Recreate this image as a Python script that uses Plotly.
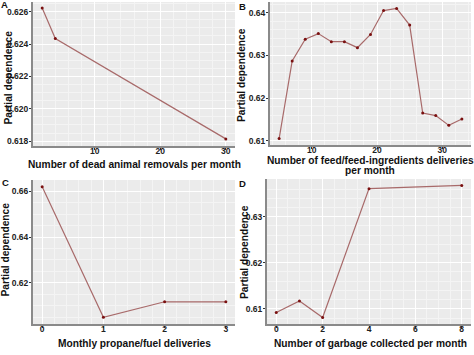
import plotly.graph_objects as go

# Panel A
a_x = [2, 4, 30]
a_y = [0.62623, 0.62434, 0.61814]
# Panel B
b_x = [5, 7, 9, 11, 13, 15, 17, 19, 21, 23, 25, 27, 29, 31, 33]
b_y = [0.6105, 0.6287, 0.6338, 0.6351, 0.6332, 0.6332, 0.6318, 0.6349,
       0.6405, 0.6410, 0.6371, 0.6165, 0.6159, 0.6136, 0.6151]
# Panel C
c_x = [0, 1, 2, 3]
c_y = [0.6620, 0.6049, 0.6117, 0.6117]
# Panel D
d_x = [0, 1, 2, 4, 8]
d_y = [0.6092, 0.6117, 0.6081, 0.6361, 0.6368]

x_titles = ["Number of dead animal removals per month",
            "Number of feed/feed-ingredients deliveries<br>per month",
            "Monthly propane/fuel deliveries",
            "Number of garbage collected per month"]
y_title = "Partial dependence"
panel_labels = ["A", "B", "C", "D"]

W, H = 474, 355
FONT = "Liberation Sans, Arial, sans-serif"
LINE_C = "#A86A6A"
MARK_C = "#7A1010"

fig = go.Figure()

panels = [
    (a_x, a_y, (33, 235, 2, 146), [0.6, 31.4], [0.6177, 0.6266], 10, 0.002, ".3f"),
    (b_x, b_y, (270, 471, 2, 145), [3.6, 34.4], [0.6090, 0.6425], 10, 0.01, ".2f"),
    (c_x, c_y, (33, 235, 180, 324), [-0.15, 3.15], [0.6020, 0.6649], 1, 0.02, ".2f"),
    (d_x, d_y, (267, 471, 179, 324), [-0.4, 8.4], [0.6067, 0.6382], 2, 0.01, ".2f"),
]

layout = {}
for i, (xs, ys, (l, r, t, b), xr, yr, xd, yd, yfmt) in enumerate(panels):
    n = "" if i == 0 else str(i + 1)
    fig.add_trace(go.Scatter(
        x=xs, y=ys, mode="lines+markers",
        line=dict(color=LINE_C, width=1.2),
        marker=dict(color=MARK_C, size=3),
        xaxis="x" + n, yaxis="y" + n, showlegend=False, hoverinfo="skip"))
    common = dict(
        automargin=False,
        showgrid=True, gridcolor="white", gridwidth=1,
        showline=True, linecolor="#8a8a8a", linewidth=2,
        ticks="outside", ticklen=2, tickcolor="#333333",
        tickfont=dict(family=FONT, size=8.5, color="#222222", weight="bold"),
        zeroline=False,
        minor=dict(showgrid=True, gridcolor="#F4F4F4", gridwidth=0.6),
    )
    layout["xaxis" + n] = dict(
        common, domain=[l / W, r / W], range=xr, dtick=xd, tick0=0,
        anchor="y" + n, ticklabelstandoff=-6)
    layout["yaxis" + n] = dict(
        common, domain=[1 - b / H, 1 - t / H], range=yr, dtick=yd, tick0=0,
        tickformat=yfmt, anchor="x" + n, ticklabelstandoff=-1)

TFONT = dict(family=FONT, size=10.2, color="#111111")
annotations = []
# panel letters
for lab, (px, py) in zip(panel_labels, [(4.5, 5), (242, 6.5), (5, 182.5), (242, 183.5)]):
    annotations.append(dict(text="<b>" + lab + "</b>", x=px / W, y=1 - py / H,
                            xref="paper", yref="paper", showarrow=False,
                            xanchor="center", yanchor="middle",
                            font=dict(family=FONT, size=9.5, color="#111111")))
# x titles (multi-line titles split into separate lines for tight spacing)
title_pos = [[(134, 164)], [(370, 160.7), (370, 170.3)], [(134, 343)], [(370, 343)]]
for txt, poss in zip(x_titles, title_pos):
    for line, (px, py) in zip(txt.split("<br>"), poss):
        annotations.append(dict(text="<b>" + line + "</b>",
                                x=px / W, y=1 - py / H, xref="paper", yref="paper",
                                showarrow=False, xanchor="center", yanchor="middle",
                                font=TFONT))
# y titles
for (px, py) in [(7.5, 78), (242, 75), (5.5, 250), (244, 252)]:
    annotations.append(dict(text="<b>" + y_title + "</b>", x=px / W, y=1 - py / H,
                            xref="paper", yref="paper", showarrow=False,
                            xanchor="center", yanchor="middle", textangle=-90,
                            font=TFONT))

fig.update_layout(
    width=W, height=H, margin=dict(l=0, r=0, t=0, b=0),
    paper_bgcolor="white", plot_bgcolor="#EBEBEB",
    annotations=annotations, **layout)

fig.write_html("out.html", config={"displayModeBar": False},
               post_script="document.body.style.margin='0';document.body.style.overflow='hidden';")
